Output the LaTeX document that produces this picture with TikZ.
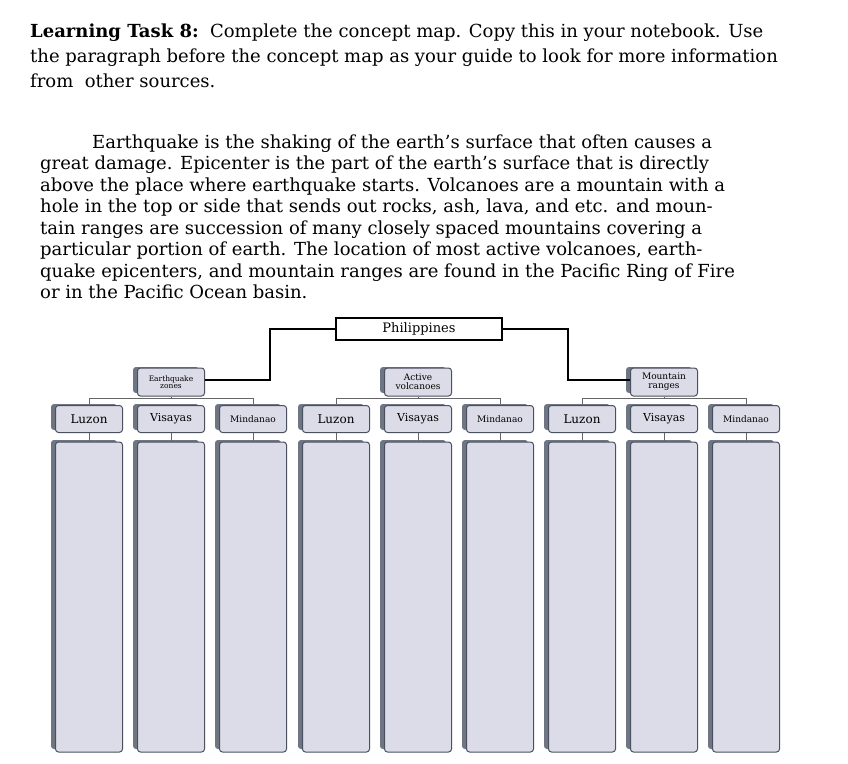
\documentclass[tikz,border=0pt]{standalone}
\usepackage{fontspec}
\setmainfont{DejaVu Serif}
\definecolor{shc}{HTML}{6E7684}
\definecolor{bxf}{HTML}{DCDCE8}
\definecolor{bxd}{HTML}{4A5060}
\begin{document}
\begin{tikzpicture}[x=1pt,y=-1pt,
  txt/.style={anchor=base west,inner sep=0,font=\fontsize{18}{20}\selectfont},
  cbox/.style={draw=bxd,line width=1pt,rounded corners=3pt,fill=bxf,
    minimum width=67pt,inner sep=1pt,align=center},
  conn/.style={draw=black!60,line width=0.8pt},
  main/.style={draw=black,line width=2pt}]
\useasboundingbox (0,0) rectangle (848,763);
\fill[white] (0,0) rectangle (848,763);
% text
\node[txt] (t1) at (30,37) {\textbf{Learning Task 8:}\ \ Complete the concept map. Copy this in your notebook. Use};
\node[txt] (t2) at (30,62) {the paragraph before the concept map as your guide to look for more information};
\node[txt] (t3) at (30,87) {from\ \ other sources.};
\foreach \l [count=\i] in {
 {\hspace*{52pt}Earthquake is the shaking of the earth’s surface that often causes a},
 {great damage. Epicenter is the part of the earth’s surface that is directly},
 {above the place where earthquake starts. Volcanoes are a mountain with a},
 {hole in the top or side that sends out rocks, ash, lava, and etc. and moun-},
 {tain ranges are succession of many closely spaced mountains covering a},
 {particular portion of earth. The location of most active volcanoes, earth-},
 {quake epicenters, and mountain ranges are found in the Pacific Ring of Fire},
 {or in the Pacific Ocean basin.}}
  \node[txt] (p\i) at (40,148+21.5*\i-21.5) {\l};
% Philippines
\node[draw=black,line width=1.2pt,fill=white,minimum width=166pt,minimum height=22pt,inner sep=0,font=\fontsize{13}{13}\selectfont] (ph) at (419,329) {Philippines};
\foreach \n/\x/\t/\f in {eq/171/{Earthquake\\zones}/7.5,av/418/{Active\\volcanoes}/9,mr/664/{Mountain\\ranges}/9}{
  \fill[shc,rounded corners=3pt] (\x-38,367) rectangle (\x+28,393);
  \node[cbox,minimum height=28pt,font=\fontsize{\f}{\f}\selectfont] (\n) at (\x,382) {\t};
}
\draw[main] (ph.west) -| (270,380) -- (eq.east|-0,380);
\draw[main] (ph.east) -| (568,380) -- (mr.west|-0,380);
\foreach \g/\c in {eq/171,av/418,mr/664}{
  \draw[conn] (\g.south) -- (\c,398);
  \draw[conn] (\c-82,405) -- (\c-82,398) -- (\c+82,398) -- (\c+82,405);
}
\foreach \n/\x/\t/\f in {a/89/Luzon/12,b/171/Visayas/11,c/253/Mindanao/9,
  d/336/Luzon/12,e/418/Visayas/11,f/500/Mindanao/9,
  g/582/Luzon/12,h/664/Visayas/11,k/746/Mindanao/9}{
  \fill[shc,rounded corners=3pt] (\x-38,404) rectangle (\x+28,430);
  \node[cbox,minimum height=27pt,font=\fontsize{\f}{\f}\selectfont] (l\n) at (\x,419) {\t};
  \fill[shc,rounded corners=3pt] (\x-38,440) rectangle (\x+28,749);
  \node[cbox,minimum height=310pt] (b\n) at (\x,597) {};
  \draw[conn] (l\n.south) -- (b\n.north);
}
\end{tikzpicture}
\end{document}
